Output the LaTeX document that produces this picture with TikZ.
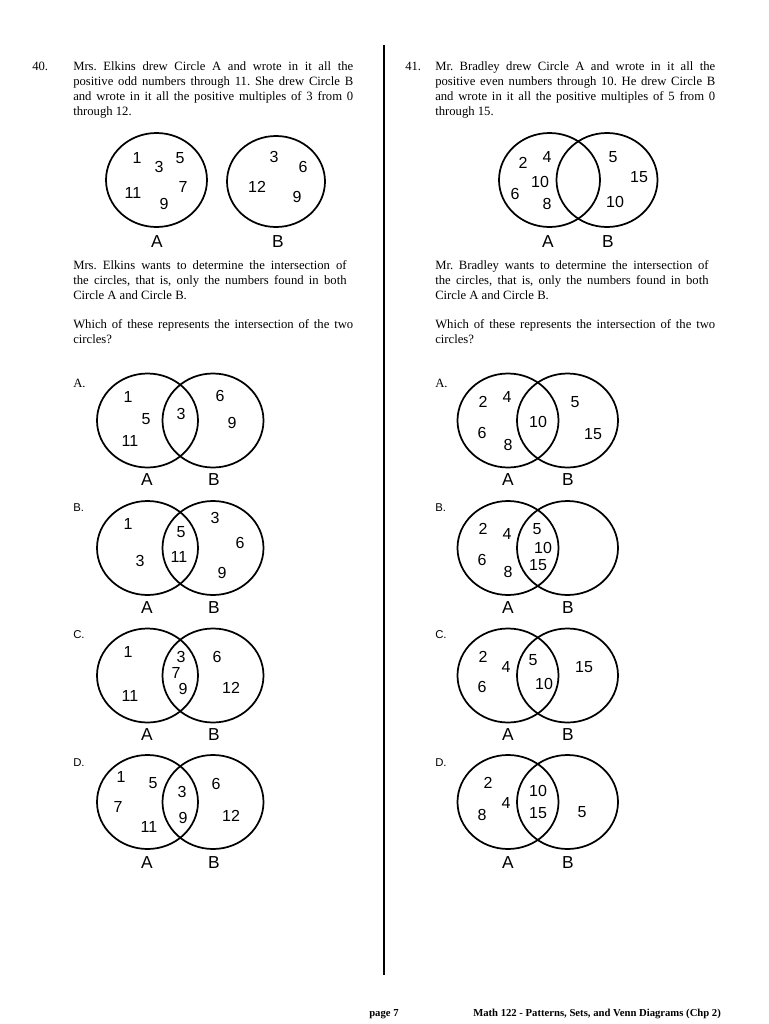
\documentclass[tikz,border=0pt]{standalone}
\usepackage{fontspec}
\setmainfont{Liberation Serif}
\newfontfamily\numfont{Liberation Sans}
\usetikzlibrary{shapes.geometric}
\frenchspacing

\begin{document}
\begin{tikzpicture}[
    x=0.75pt, y=-0.75pt,
    venn/.style={ellipse, draw, line width=1.3pt, inner sep=0pt,
                 minimum width=75.75pt, minimum height=70.5pt},
    num/.style={inner sep=0pt, font=\numfont\fontsize{12}{12}\selectfont},
    setlbl/.style={inner sep=0pt, font=\numfont\fontsize{13}{13}\selectfont},
    optlbl/.style={anchor=west, inner sep=0pt, font=\fontsize{9.5}{10}\selectfont},
    optsans/.style={optlbl, font=\numfont\fontsize{8.5}{10}\selectfont},
    qnum/.style={anchor=base west, inner sep=0pt, font=\fontsize{9.5}{11.25}\selectfont},
    para/.style={anchor=north west, inner sep=0pt, align=justify,
                 font=\fontsize{9.5}{11.25}\selectfont},
    foot/.style={anchor=base west, inner sep=0pt, font=\bfseries\fontsize{8}{9}\selectfont}
  ]
  \useasboundingbox (0,0) rectangle (768,1024);

  % column rule
  \draw[line width=0.8pt] (384,45) -- (384,975);

  % problem 40
  \node[qnum] (q40) at (32,70) {40.};
  \node[para, text width=210pt] (t40a) at (73,61.3)
    {Mrs. Elkins drew Circle A and wrote in it all the\linebreak
     positive odd numbers through 11. She drew Circle B\linebreak
     and wrote in it all the positive multiples of 3 from 0\linebreak
     through 12.};
  \node[venn] (ekA) at (156.5,180) {};
  \node[venn, minimum width=73.5pt, minimum height=68.25pt] (ekB) at (276,181.5) {};
  \node[setlbl] (ekAl) at (157,242) {A};
  \node[setlbl] (ekBl) at (278,242) {B};
  \node[num] (ekA1) at (137,158) {1};
  \node[num] (ekA3) at (159,167) {3};
  \node[num] (ekA5) at (180,158) {5};
  \node[num] (ekA11) at (133,193) {11};
  \node[num] (ekA7) at (183,187) {7};
  \node[num] (ekA9) at (164,204) {9};
  \node[num] (ekB3) at (274,157) {3};
  \node[num] (ekB6) at (303,167) {6};
  \node[num] (ekB12) at (257,187) {12};
  \node[num] (ekB9) at (297,197) {9};
  \node[para, text width=205pt] (t40b) at (73,260.3)
    {Mrs. Elkins wants to determine the intersection of\linebreak
     the circles, that is, only the numbers found in both\linebreak
     Circle A and Circle B.};
  \node[para, text width=210pt] (t40c) at (73,319.3)
    {Which of these represents the intersection of the two\linebreak
     circles?};

  % 40 A.
  \node[optlbl] (la) at (73,383) {A.};
  \node[venn] (laA) at (147.5,420.5) {};
  \node[venn] (laB) at (213,420.5) {};
  \node[setlbl] (laAl) at (147,480) {A};
  \node[setlbl] (laBl) at (214,480) {B};
  \node[num] (laA1) at (128,397) {1};
  \node[num] (laA5) at (146,419) {5};
  \node[num] (laA11) at (130,441) {11};
  \node[num] (laM3) at (181,414) {3};
  \node[num] (laB6) at (220,396) {6};
  \node[num] (laB9) at (232,423) {9};

  % 40 B.
  \node[optsans] (lb) at (73,508) {B.};
  \node[venn] (lbA) at (147.5,548) {};
  \node[venn] (lbB) at (213,548) {};
  \node[setlbl] (lbAl) at (147,608) {A};
  \node[setlbl] (lbBl) at (214,608) {B};
  \node[num] (lbA1) at (128,524) {1};
  \node[num] (lbA3) at (140,561) {3};
  \node[num] (lbM5) at (181,532) {5};
  \node[num] (lbM11) at (179,557) {11};
  \node[num] (lbB3) at (215,518) {3};
  \node[num] (lbB6) at (240,543) {6};
  \node[num] (lbB9) at (222,573) {9};

  % 40 C.
  \node[optsans] (lc) at (73,635) {C.};
  \node[venn] (lcA) at (147.5,675.5) {};
  \node[venn] (lcB) at (213,675.5) {};
  \node[setlbl] (lcAl) at (147,735) {A};
  \node[setlbl] (lcBl) at (214,735) {B};
  \node[num] (lcA1) at (128,652) {1};
  \node[num] (lcA11) at (130,696) {11};
  \node[num] (lcM3) at (181,657) {3};
  \node[num] (lcM7) at (176,673) {7};
  \node[num] (lcM9) at (183,689) {9};
  \node[num] (lcB6) at (217,657) {6};
  \node[num] (lcB12) at (231,688) {12};

  % 40 D.
  \node[optsans] (ld) at (73,763) {D.};
  \node[venn] (ldA) at (147.5,802) {};
  \node[venn] (ldB) at (213,802) {};
  \node[setlbl] (ldAl) at (147,863) {A};
  \node[setlbl] (ldBl) at (214,863) {B};
  \node[num] (ldA1) at (121,777) {1};
  \node[num] (ldA5) at (153,783) {5};
  \node[num] (ldA7) at (118,807) {7};
  \node[num] (ldA11) at (149,827) {11};
  \node[num] (ldM3) at (182,792) {3};
  \node[num] (ldM9) at (183,818) {9};
  \node[num] (ldB6) at (216,784) {6};
  \node[num] (ldB12) at (231,816) {12};

  % problem 41
  \node[qnum] (q41) at (405,70) {41.};
  \node[para, text width=210pt] (t41a) at (435,61.3)
    {Mr. Bradley drew Circle A and wrote in it all the\linebreak
     positive even numbers through 10. He drew Circle B\linebreak
     and wrote in it all the positive multiples of 5 from 0\linebreak
     through 15.};
  \node[venn] (bdA) at (549.5,180) {};
  \node[venn] (bdB) at (607,180) {};
  \node[setlbl] (bdAl) at (548,242) {A};
  \node[setlbl] (bdBl) at (608,242) {B};
  \node[num] (bdA2) at (523,163) {2};
  \node[num] (bdA4) at (547,157) {4};
  \node[num] (bdA10) at (540,182) {10};
  \node[num] (bdA6) at (515,194) {6};
  \node[num] (bdA8) at (547,204) {8};
  \node[num] (bdB5) at (613,157) {5};
  \node[num] (bdB15) at (639,177) {15};
  \node[num] (bdB10) at (615,202) {10};
  \node[para, text width=205pt] (t41b) at (435,260.3)
    {Mr. Bradley wants to determine the intersection of\linebreak
     the circles, that is, only the numbers found in both\linebreak
     Circle A and Circle B.};
  \node[para, text width=210pt] (t41c) at (435,319.3)
    {Which of these represents the intersection of the two\linebreak
     circles?};

  % 41 A.
  \node[optlbl] (ra) at (435,383) {A.};
  \node[venn] (raA) at (508,420.5) {};
  \node[venn] (raB) at (567.5,420.5) {};
  \node[setlbl] (raAl) at (508,480) {A};
  \node[setlbl] (raBl) at (568,480) {B};
  \node[num] (raA2) at (483,402) {2};
  \node[num] (raA4) at (507,397) {4};
  \node[num] (raA6) at (482,433) {6};
  \node[num] (raA8) at (508,445) {8};
  \node[num] (raM10) at (538,422) {10};
  \node[num] (raB5) at (575,402) {5};
  \node[num] (raB15) at (593,434) {15};

  % 41 B.
  \node[optsans] (rb) at (435,508) {B.};
  \node[venn] (rbA) at (508,548) {};
  \node[venn] (rbB) at (567.5,548) {};
  \node[setlbl] (rbAl) at (508,608) {A};
  \node[setlbl] (rbBl) at (568,608) {B};
  \node[num] (rbA2) at (483,529) {2};
  \node[num] (rbA4) at (507,534) {4};
  \node[num] (rbA6) at (482,560) {6};
  \node[num] (rbA8) at (508,572) {8};
  \node[num] (rbM5) at (537,529) {5};
  \node[num] (rbM10) at (543,548) {10};
  \node[num] (rbM15) at (538,565) {15};

  % 41 C.
  \node[optsans] (rc) at (435,635) {C.};
  \node[venn] (rcA) at (508,675.5) {};
  \node[venn] (rcB) at (567.5,675.5) {};
  \node[setlbl] (rcAl) at (508,735) {A};
  \node[setlbl] (rcBl) at (568,735) {B};
  \node[num] (rcA2) at (483,657) {2};
  \node[num] (rcA4) at (506,667) {4};
  \node[num] (rcA6) at (482,687) {6};
  \node[num] (rcM5) at (533,660) {5};
  \node[num] (rcM10) at (544,684) {10};
  \node[num] (rcB15) at (584,667) {15};

  % 41 D.
  \node[optsans] (rd) at (435,763) {D.};
  \node[venn] (rdA) at (508,802) {};
  \node[venn] (rdB) at (567.5,802) {};
  \node[setlbl] (rdAl) at (508,863) {A};
  \node[setlbl] (rdBl) at (568,863) {B};
  \node[num] (rdA2) at (488,783) {2};
  \node[num] (rdA4) at (506,803) {4};
  \node[num] (rdA8) at (482,815) {8};
  \node[num] (rdM10) at (538,791) {10};
  \node[num] (rdM15) at (538,813) {15};
  \node[num] (rdB5) at (582,812) {5};

  % footer
  \node[foot] (pg) at (369,1016) {page 7};
  \node[foot] (course) at (473,1016) {Math 122 - Patterns, Sets, and Venn Diagrams (Chp 2)};
\end{tikzpicture}
\end{document}
